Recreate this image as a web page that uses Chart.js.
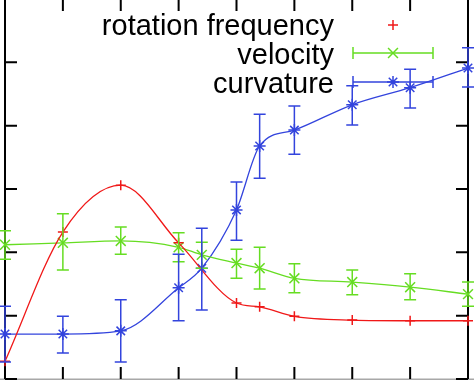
<!DOCTYPE html>
<html>
<head>
<meta charset="utf-8">
<script src="https://cdn.jsdelivr.net/npm/chart.js@4.4.1/dist/chart.umd.min.js"></script>
<style>
  html, body { margin: 0; padding: 0; background: #fff; overflow: hidden; }
  #wrap { position: absolute; left: 0; top: -4px; width: 474px; height: 386px; }
</style>
</head>
<body>
<div id="wrap"><canvas id="c" width="474" height="386"></canvas></div>
<script>
// ---- data ----
const seriesNames = ['rotation frequency', 'velocity', 'curvature'];

const rotX = [0, 1, 2, 3, 4, 4.4, 5, 6, 7, 8];
const rotY = [0.28, 2.32, 3.06, 2.15, 1.20, 1.14, 0.99, 0.93, 0.92, 0.92];

const velX = [0, 1, 2, 3, 3.4, 4, 4.4, 5, 6, 7, 8];
const velY = [2.12, 2.15, 2.18, 2.08, 1.96, 1.83, 1.75, 1.59, 1.53, 1.45, 1.34];
const velLo = [1.89, 1.72, 1.97, 1.85, 1.75, 1.59, 1.42, 1.36, 1.33, 1.25, 1.15];
const velHi = [2.34, 2.61, 2.40, 2.31, 2.16, 2.05, 2.08, 1.82, 1.72, 1.66, 1.53];

const curX = [0, 1, 2, 3, 3.4, 4, 4.4, 5, 6, 7, 8];
const curY = [0.71, 0.71, 0.76, 1.44, 1.75, 2.67, 3.68, 3.93, 4.33, 4.60, 4.91];
const curLo = [0.27, 0.41, 0.27, 0.92, 1.09, 2.19, 3.17, 3.55, 4.01, 4.28, 4.61];
const curHi = [1.15, 0.99, 1.25, 1.97, 2.38, 3.11, 4.18, 4.31, 4.63, 4.89, 5.23];

const xTickValues = [0, 1, 2, 3, 4, 5, 6, 7, 8];
const yTickValues = [0, 1, 2, 3, 4, 5, 6];

const RED = '#f01818', GREEN = '#66dd22', BLUE = '#3344dd';

function pts(xs, ys) { return xs.map((x, i) => ({ x: x, y: ys[i] })); }

function drawMarker(ctx, style, x, y, r) {
  ctx.beginPath();
  if (style === 'cross' || style === 'star') {
    ctx.moveTo(x - r, y); ctx.lineTo(x + r, y);
    ctx.moveTo(x, y - r); ctx.lineTo(x, y + r);
  }
  if (style === 'crossRot' || style === 'star') {
    const d = r * Math.SQRT1_2;
    ctx.moveTo(x - d, y - d); ctx.lineTo(x + d, y + d);
    ctx.moveTo(x - d, y + d); ctx.lineTo(x + d, y - d);
  }
  ctx.stroke();
}

const errorSets = [
  { xs: velX, lo: velLo, hi: velHi, color: GREEN },
  { xs: curX, lo: curLo, hi: curHi, color: BLUE }
];

const framePlugin = {
  id: 'frame',
  beforeDatasetsDraw(chart) {
    const ctx = chart.ctx, xs = chart.scales.x, ys = chart.scales.y, a = chart.chartArea;
    ctx.save();
    // bottom grey band
    ctx.fillStyle = '#a8a8a8';
    ctx.fillRect(0, a.bottom - 0.5, chart.width, 2.5);
    ctx.strokeStyle = '#000';
    ctx.lineWidth = 2;
    ctx.beginPath();
    ctx.moveTo(a.left, a.top); ctx.lineTo(a.left, a.bottom);
    ctx.moveTo(a.right, a.top); ctx.lineTo(a.right, a.bottom);
    ctx.stroke();
    const tl = 12;
    ctx.beginPath();
    yTickValues.forEach(v => {
      const py = ys.getPixelForValue(v);
      ctx.moveTo(a.left, py); ctx.lineTo(a.left + tl, py);
      ctx.moveTo(a.right, py); ctx.lineTo(a.right - tl, py);
    });
    xTickValues.forEach(v => {
      const px = xs.getPixelForValue(v);
      ctx.moveTo(px, a.bottom); ctx.lineTo(px, a.bottom - tl);
      ctx.moveTo(px, a.top); ctx.lineTo(px, a.top + tl);
    });
    ctx.stroke();
    ctx.restore();
  },
  afterDatasetsDraw(chart) {
    const ctx = chart.ctx, xs = chart.scales.x, ys = chart.scales.y;
    ctx.save();
    ctx.lineWidth = 1.5;
    errorSets.forEach(s => {
      ctx.strokeStyle = s.color;
      ctx.beginPath();
      s.xs.forEach((xv, i) => {
        const px = xs.getPixelForValue(xv);
        const p1 = ys.getPixelForValue(s.lo[i]);
        const p2 = ys.getPixelForValue(s.hi[i]);
        ctx.moveTo(px, p1); ctx.lineTo(px, p2);
        ctx.moveTo(px - 6, p1); ctx.lineTo(px + 6, p1);
        ctx.moveTo(px - 6, p2); ctx.lineTo(px + 6, p2);
      });
      ctx.stroke();
    });
    ctx.restore();
  },
  afterDraw(chart) {
    const ctx = chart.ctx;
    const off = 4; // canvas is shifted up by 4px
    ctx.save();
    ctx.font = '29px "Liberation Sans", Arial, sans-serif';
    ctx.fillStyle = '#000';
    ctx.textAlign = 'right';
    ctx.textBaseline = 'alphabetic';
    const rows = [25, 53, 82];
    const bases = [35, 64, 93];
    seriesNames.forEach((n, i) => ctx.fillText(n, 334, bases[i] + off));
    ctx.lineWidth = 1.5;
    ctx.strokeStyle = RED;
    drawMarker(ctx, 'cross', 393, rows[0] + off, 5);
    [[GREEN, 'crossRot', 7], [BLUE, 'star', 6]].forEach((d, k) => {
      const y = rows[k + 1] + off;
      ctx.strokeStyle = d[0];
      ctx.beginPath();
      ctx.moveTo(353, y); ctx.lineTo(433, y);
      ctx.moveTo(353, y - 6); ctx.lineTo(353, y + 6);
      ctx.moveTo(433, y - 6); ctx.lineTo(433, y + 6);
      ctx.stroke();
      drawMarker(ctx, d[1], 393, y, d[2]);
    });
    ctx.restore();
  }
};

new Chart(document.getElementById('c'), {
  type: 'line',
  data: {
    datasets: [
      { label: seriesNames[0], data: pts(rotX, rotY), borderColor: RED, backgroundColor: RED,
        pointStyle: 'cross', pointRadius: 5, pointBorderWidth: 1.5, borderWidth: 1.3,
        cubicInterpolationMode: 'monotone', clip: false, fill: false },
      { label: seriesNames[1], data: pts(velX, velY), borderColor: GREEN, backgroundColor: GREEN,
        pointStyle: 'crossRot', pointRadius: 7, pointBorderWidth: 1.5, borderWidth: 1.3,
        cubicInterpolationMode: 'monotone', clip: false, fill: false },
      { label: seriesNames[2], data: pts(curX, curY), borderColor: BLUE, backgroundColor: BLUE,
        pointStyle: 'star', pointRadius: 6, pointBorderWidth: 1.5, borderWidth: 1.3,
        cubicInterpolationMode: 'monotone', clip: false, fill: false }
    ]
  },
  options: {
    responsive: false,
    animation: false,
    devicePixelRatio: 1,
    layout: { autoPadding: false, padding: { left: 5, right: 6, top: 3, bottom: 3 } },
    plugins: { legend: { display: false }, tooltip: { enabled: false } },
    scales: {
      x: { type: 'linear', min: 0, max: 8, display: false },
      y: { type: 'linear', min: 0, max: 6, display: false }
    }
  },
  plugins: [framePlugin]
});
</script>
</body>
</html>
